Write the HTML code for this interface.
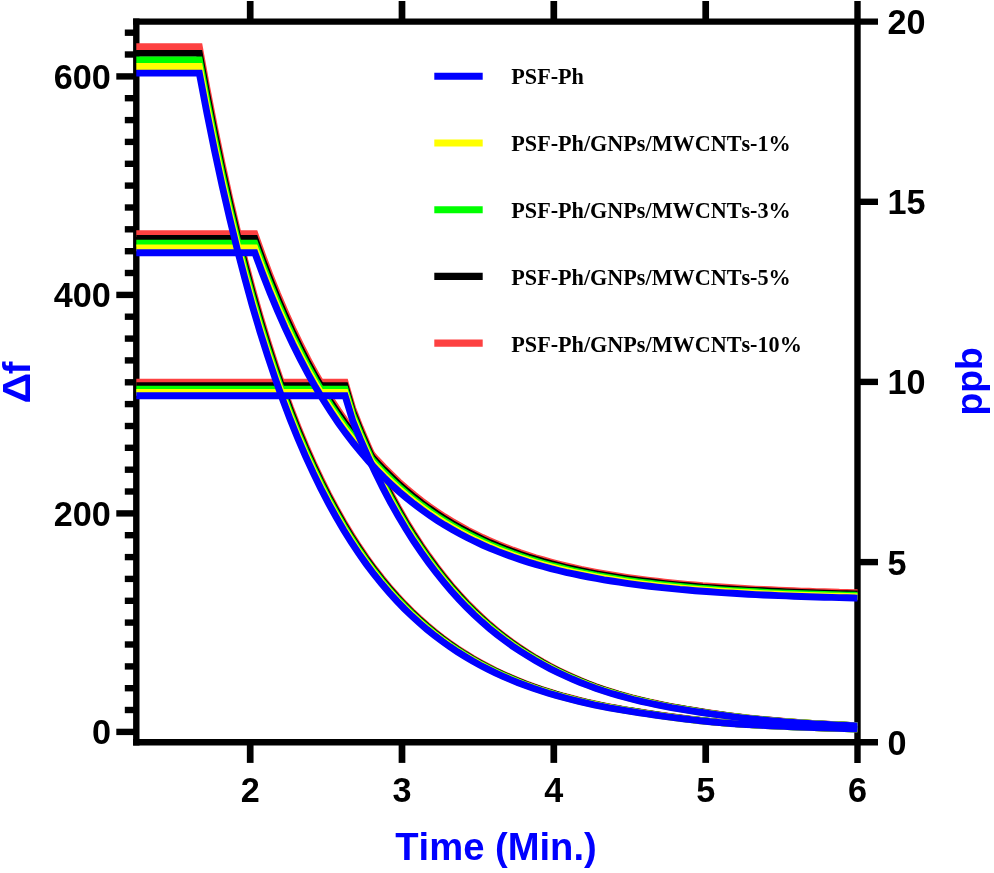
<!DOCTYPE html>
<html lang="en"><head><meta charset="utf-8"><title>Chart</title>
<style>html,body{margin:0;padding:0;background:#fff}svg{display:block}.n{font-family:"Liberation Sans",Arial,sans-serif;font-weight:bold;font-size:34.2px;fill:#000;font-kerning:none}.t{font-family:"Liberation Sans",Arial,sans-serif;font-weight:bold;font-size:38.2px;fill:#0000ff;font-kerning:none}.l{font-family:"Liberation Serif","Times New Roman",serif;font-weight:bold;font-size:22.18px;fill:#000;font-kerning:none}</style></head><body>
<svg width="994" height="873" viewBox="0 0 994 873">
<rect width="994" height="873" fill="#fff"/>
<g stroke="#000" stroke-width="6.4" fill="none" stroke-linecap="butt">
<path d="M136.3 18.400000000000002V745.5"/>
<path d="M133.10000000000002 21.6H878"/>
<path d="M133.10000000000002 742.3H878"/>
<path d="M857.5 1V762.9"/>
<path stroke-width="6.7" d="M250.2 1V21.6"/>
<path stroke-width="6.7" d="M250.2 742.3V762.9"/>
<path stroke-width="6.7" d="M402.0 1V21.6"/>
<path stroke-width="6.7" d="M402.0 742.3V762.9"/>
<path stroke-width="6.7" d="M553.8 1V21.6"/>
<path stroke-width="6.7" d="M553.8 742.3V762.9"/>
<path stroke-width="6.7" d="M705.7 1V21.6"/>
<path stroke-width="6.7" d="M705.7 742.3V762.9"/>
<path d="M116.3 731.9H136.3"/>
<path d="M124.8 710.0H136.3"/>
<path d="M124.8 688.2H136.3"/>
<path d="M124.8 666.4H136.3"/>
<path d="M124.8 644.5H136.3"/>
<path d="M124.8 622.6H136.3"/>
<path d="M124.8 600.8H136.3"/>
<path d="M124.8 578.9H136.3"/>
<path d="M124.8 557.1H136.3"/>
<path d="M124.8 535.2H136.3"/>
<path d="M116.3 513.4H136.3"/>
<path d="M124.8 491.5H136.3"/>
<path d="M124.8 469.7H136.3"/>
<path d="M124.8 447.8H136.3"/>
<path d="M124.8 426.0H136.3"/>
<path d="M124.8 404.1H136.3"/>
<path d="M124.8 382.3H136.3"/>
<path d="M124.8 360.4H136.3"/>
<path d="M124.8 338.6H136.3"/>
<path d="M124.8 316.7H136.3"/>
<path d="M116.3 294.9H136.3"/>
<path d="M124.8 273.0H136.3"/>
<path d="M124.8 251.2H136.3"/>
<path d="M124.8 229.3H136.3"/>
<path d="M124.8 207.5H136.3"/>
<path d="M124.8 185.6H136.3"/>
<path d="M124.8 163.8H136.3"/>
<path d="M124.8 141.9H136.3"/>
<path d="M124.8 120.1H136.3"/>
<path d="M124.8 98.2H136.3"/>
<path d="M116.3 76.4H136.3"/>
<path d="M124.8 54.5H136.3"/>
<path d="M124.8 32.7H136.3"/>
<path d="M857.5 562.1H878"/>
<path d="M857.5 381.9H878"/>
<path d="M857.5 201.8H878"/>
</g>
<g fill="none" stroke-width="6.9" stroke-linejoin="miter" stroke-linecap="butt">
<polyline stroke="#fd4141" points="136.3,46.8 199.3,46.8 206.9,88.2 214.5,127.1 222.1,163.6 229.7,197.9 237.3,230.2 244.9,260.5 252.4,288.9 260.0,315.7 267.6,340.8 275.2,364.4 282.8,386.5 290.4,407.4 298.0,426.9 305.6,445.3 313.2,462.6 320.8,478.8 328.4,494.0 336.0,508.3 343.5,521.8 351.1,534.4 358.7,546.3 366.3,557.4 373.9,567.9 381.5,577.7 389.1,586.9 396.7,595.6 404.3,603.8 411.9,611.4 419.5,618.6 427.1,625.4 434.6,631.7 442.2,637.7 449.8,643.3 457.4,648.6 465.0,653.5 472.6,658.2 480.2,662.5 487.8,666.6 495.4,670.5 503.0,674.1 510.6,677.5 518.2,680.7 525.7,683.7 533.3,686.5 540.9,689.2 548.5,691.6 556.1,694.0 563.7,696.2 571.3,698.2 578.9,700.2 586.5,702.0 594.1,703.7 601.7,705.3 609.3,706.8 616.8,708.2 624.4,709.6 632.0,710.8 639.6,712.0 647.2,713.2 654.8,714.3 662.4,715.5 670.0,716.5 677.6,717.5 685.2,718.5 692.8,719.5 700.3,720.3 707.9,721.1 715.5,721.9 723.1,722.6 730.7,723.2 738.3,723.7 745.9,724.2 753.5,724.7 761.1,725.1 768.7,725.5 776.3,725.9 783.9,726.2 791.4,726.6 799.0,726.9 806.6,727.2 814.2,727.5 821.8,727.7 829.4,728.0 837.0,728.2 844.6,728.4 852.2,728.6 857.5,728.8"/>
<polyline stroke="#fd4141" points="136.3,233.6 254.8,233.6 262.4,255.0 270.0,275.1 277.6,294.1 285.2,311.9 292.8,328.7 300.4,344.5 307.9,359.4 315.5,373.3 323.1,386.5 330.7,398.9 338.3,410.5 345.9,421.5 353.5,431.8 361.1,441.5 368.7,450.6 376.3,459.2 383.9,467.2 391.5,474.8 399.0,482.0 406.6,488.7 414.2,495.0 421.8,501.0 429.4,506.6 437.0,511.8 444.6,516.8 452.2,521.4 459.8,525.8 467.4,530.0 475.0,533.8 482.5,537.5 490.1,540.9 497.7,544.2 505.3,547.2 512.9,550.1 520.5,552.8 528.1,555.3 535.7,557.7 543.3,559.9 550.9,562.0 558.5,564.0 566.1,565.9 573.6,567.6 581.2,569.3 588.8,570.8 596.4,572.3 604.0,573.7 611.6,575.0 619.2,576.2 626.8,577.3 634.4,578.4 642.0,579.4 649.6,580.4 657.2,581.3 664.7,582.1 672.3,582.9 679.9,583.7 687.5,584.4 695.1,585.0 702.7,585.7 710.3,586.2 717.9,586.8 725.5,587.3 733.1,587.8 740.7,588.3 748.3,588.7 755.8,589.1 763.4,589.5 771.0,589.8 778.6,590.2 786.2,590.5 793.8,590.8 801.4,591.1 809.0,591.3 816.6,591.6 824.2,591.8 831.8,592.0 839.3,592.3 846.9,592.4 854.5,592.6 857.5,592.7"/>
<polyline stroke="#fd4141" points="136.3,382.3 345.1,382.3 352.7,408.2 360.2,427.4 367.8,445.4 375.4,462.4 383.0,478.3 390.6,493.3 398.2,507.4 405.8,520.7 413.4,533.1 421.0,544.9 428.6,555.9 436.2,566.3 443.8,576.1 451.3,585.4 458.9,594.1 466.5,602.3 474.1,610.0 481.7,617.3 489.3,624.2 496.9,630.6 504.5,636.6 512.1,642.3 519.7,647.6 527.3,652.7 534.9,657.4 542.4,661.8 550.0,666.0 557.6,670.0 565.2,673.7 572.8,677.2 580.4,680.5 588.0,683.6 595.6,686.5 603.2,689.2 610.8,691.6 618.4,694.0 626.0,696.1 633.5,698.2 641.1,700.1 648.7,701.9 656.3,703.5 663.9,705.1 671.5,706.6 679.1,708.0 686.7,709.3 694.3,710.5 701.9,711.7 709.5,712.9 717.0,714.0 724.6,715.1 732.2,716.1 739.8,717.0 747.4,717.9 755.0,718.8 762.6,719.5 770.2,720.2 777.8,720.8 785.4,721.5 793.0,722.0 800.6,722.6 808.1,723.1 815.7,723.6 823.3,724.0 830.9,724.4 838.5,724.8 846.1,725.2 853.7,725.6 857.5,725.7"/>
<polyline stroke="#000000" points="136.3,53.4 199.3,53.4 206.9,94.4 214.5,132.9 222.1,169.1 229.7,203.1 237.3,235.0 244.9,265.0 252.4,293.2 260.0,319.7 267.6,344.6 275.2,367.9 282.8,389.9 290.4,410.5 298.0,429.9 305.6,448.1 313.2,465.2 320.8,481.2 328.4,496.3 336.0,510.5 343.5,523.8 351.1,536.3 358.7,548.0 366.3,559.1 373.9,569.4 381.5,579.2 389.1,588.3 396.7,596.9 404.3,605.0 411.9,612.6 419.5,619.7 427.1,626.4 434.6,632.7 442.2,638.6 449.8,644.2 457.4,649.4 465.0,654.3 472.6,658.9 480.2,663.2 487.8,667.3 495.4,671.1 503.0,674.7 510.6,678.0 518.2,681.2 525.7,684.2 533.3,686.9 540.9,689.6 548.5,692.0 556.1,694.3 563.7,696.5 571.3,698.6 578.9,700.5 586.5,702.3 594.1,704.0 601.7,705.6 609.3,707.1 616.8,708.5 624.4,709.8 632.0,711.0 639.6,712.2 647.2,713.4 654.8,714.5 662.4,715.6 670.0,716.7 677.6,717.7 685.2,718.7 692.8,719.6 700.3,720.4 707.9,721.2 715.5,722.0 723.1,722.7 730.7,723.3 738.3,723.8 745.9,724.3 753.5,724.7 761.1,725.2 768.7,725.6 776.3,725.9 783.9,726.3 791.4,726.6 799.0,726.9 806.6,727.2 814.2,727.5 821.8,727.8 829.4,728.0 837.0,728.2 844.6,728.5 852.2,728.7 857.5,728.8"/>
<polyline stroke="#000000" points="136.3,238.4 254.8,238.4 262.4,259.6 270.0,279.5 277.6,298.3 285.2,316.0 292.8,332.6 300.4,348.2 307.9,363.0 315.5,376.8 323.1,389.8 330.7,402.1 338.3,413.6 345.9,424.4 353.5,434.6 361.1,444.2 368.7,453.3 376.3,461.8 383.9,469.8 391.5,477.3 399.0,484.4 406.6,491.0 414.2,497.3 421.8,503.2 429.4,508.7 437.0,513.9 444.6,518.8 452.2,523.5 459.8,527.8 467.4,531.9 475.0,535.7 482.5,539.4 490.1,542.8 497.7,546.0 505.3,549.0 512.9,551.8 520.5,554.5 528.1,557.0 535.7,559.3 543.3,561.6 550.9,563.7 558.5,565.6 566.1,567.5 573.6,569.2 581.2,570.8 588.8,572.4 596.4,573.8 604.0,575.2 611.6,576.5 619.2,577.7 626.8,578.8 634.4,579.9 642.0,580.9 649.6,581.8 657.2,582.7 664.7,583.6 672.3,584.4 679.9,585.1 687.5,585.8 695.1,586.4 702.7,587.1 710.3,587.6 717.9,588.2 725.5,588.7 733.1,589.2 740.7,589.6 748.3,590.1 755.8,590.5 763.4,590.8 771.0,591.2 778.6,591.5 786.2,591.9 793.8,592.2 801.4,592.4 809.0,592.7 816.6,592.9 824.2,593.2 831.8,593.4 839.3,593.6 846.9,593.8 854.5,594.0 857.5,594.0"/>
<polyline stroke="#000000" points="136.3,385.7 345.1,385.7 352.7,411.4 360.2,430.3 367.8,448.2 375.4,465.0 383.0,480.8 390.6,495.6 398.2,509.6 405.8,522.7 413.4,535.0 421.0,546.7 428.6,557.6 436.2,567.9 443.8,577.6 451.3,586.8 458.9,595.4 466.5,603.6 474.1,611.2 481.7,618.4 489.3,625.2 496.9,631.6 504.5,637.5 512.1,643.2 519.7,648.5 527.3,653.4 534.9,658.1 542.4,662.5 550.0,666.7 557.6,670.6 565.2,674.3 572.8,677.7 580.4,681.0 588.0,684.0 595.6,686.9 603.2,689.6 610.8,692.0 618.4,694.3 626.0,696.5 633.5,698.5 641.1,700.4 648.7,702.1 656.3,703.8 663.9,705.4 671.5,706.8 679.1,708.2 686.7,709.5 694.3,710.7 701.9,711.9 709.5,713.1 717.0,714.2 724.6,715.2 732.2,716.2 739.8,717.2 747.4,718.1 755.0,718.9 762.6,719.6 770.2,720.3 777.8,720.9 785.4,721.6 793.0,722.1 800.6,722.7 808.1,723.2 815.7,723.6 823.3,724.1 830.9,724.5 838.5,724.9 846.1,725.3 853.7,725.6 857.5,725.8"/>
<polyline stroke="#00ff00" points="136.3,59.9 199.3,59.9 206.9,100.6 214.5,138.7 222.1,174.5 229.7,208.2 237.3,239.8 244.9,269.6 252.4,297.5 260.0,323.7 267.6,348.3 275.2,371.5 282.8,393.2 290.4,413.6 298.0,432.8 305.6,450.8 313.2,467.7 320.8,483.6 328.4,498.6 336.0,512.6 343.5,525.8 351.1,538.2 358.7,549.8 366.3,560.8 373.9,571.0 381.5,580.7 389.1,589.7 396.7,598.2 404.3,606.2 411.9,613.8 419.5,620.8 427.1,627.4 434.6,633.7 442.2,639.5 449.8,645.0 457.4,650.2 465.0,655.0 472.6,659.6 480.2,663.9 487.8,667.9 495.4,671.7 503.0,675.2 510.6,678.5 518.2,681.7 525.7,684.6 533.3,687.4 540.9,690.0 548.5,692.4 556.1,694.7 563.7,696.9 571.3,698.9 578.9,700.8 586.5,702.6 594.1,704.2 601.7,705.8 609.3,707.3 616.8,708.7 624.4,710.0 632.0,711.2 639.6,712.4 647.2,713.6 654.8,714.7 662.4,715.8 670.0,716.8 677.6,717.8 685.2,718.8 692.8,719.7 700.3,720.5 707.9,721.3 715.5,722.1 723.1,722.7 730.7,723.3 738.3,723.9 745.9,724.3 753.5,724.8 761.1,725.2 768.7,725.6 776.3,726.0 783.9,726.3 791.4,726.7 799.0,727.0 806.6,727.3 814.2,727.5 821.8,727.8 829.4,728.0 837.0,728.3 844.6,728.5 852.2,728.7 857.5,728.8"/>
<polyline stroke="#00ff00" points="136.3,243.1 254.8,243.1 262.4,264.2 270.0,283.9 277.6,302.5 285.2,320.0 292.8,336.5 300.4,352.0 307.9,366.5 315.5,380.2 323.1,393.1 330.7,405.3 338.3,416.7 345.9,427.4 353.5,437.5 361.1,447.0 368.7,456.0 376.3,464.4 383.9,472.3 391.5,479.8 399.0,486.8 406.6,493.4 414.2,499.6 421.8,505.4 429.4,510.9 437.0,516.1 444.6,520.9 452.2,525.5 459.8,529.8 467.4,533.8 475.0,537.6 482.5,541.2 490.1,544.6 497.7,547.8 505.3,550.8 512.9,553.6 520.5,556.2 528.1,558.7 535.7,561.0 543.3,563.2 550.9,565.3 558.5,567.2 566.1,569.1 573.6,570.8 581.2,572.4 588.8,573.9 596.4,575.4 604.0,576.7 611.6,578.0 619.2,579.2 626.8,580.3 634.4,581.4 642.0,582.4 649.6,583.3 657.2,584.2 664.7,585.0 672.3,585.8 679.9,586.5 687.5,587.2 695.1,587.9 702.7,588.5 710.3,589.0 717.9,589.6 725.5,590.1 733.1,590.6 740.7,591.0 748.3,591.4 755.8,591.8 763.4,592.2 771.0,592.6 778.6,592.9 786.2,593.2 793.8,593.5 801.4,593.8 809.0,594.0 816.6,594.3 824.2,594.5 831.8,594.7 839.3,594.9 846.9,595.1 854.5,595.3 857.5,595.4"/>
<polyline stroke="#00ff00" points="136.3,389.1 345.1,389.1 352.7,414.5 360.2,433.3 367.8,450.9 375.4,467.6 383.0,483.2 390.6,497.9 398.2,511.7 405.8,524.7 413.4,537.0 421.0,548.4 428.6,559.3 436.2,569.5 443.8,579.1 451.3,588.2 458.9,596.8 466.5,604.8 474.1,612.4 481.7,619.5 489.3,626.2 496.9,632.5 504.5,638.5 512.1,644.0 519.7,649.3 527.3,654.2 534.9,658.8 542.4,663.2 550.0,667.3 557.6,671.2 565.2,674.8 572.8,678.2 580.4,681.5 588.0,684.5 595.6,687.4 603.2,690.0 610.8,692.4 618.4,694.7 626.0,696.8 633.5,698.8 641.1,700.7 648.7,702.4 656.3,704.1 663.9,705.6 671.5,707.1 679.1,708.4 686.7,709.7 694.3,710.9 701.9,712.1 709.5,713.3 717.0,714.4 724.6,715.4 732.2,716.4 739.8,717.3 747.4,718.2 755.0,719.0 762.6,719.7 770.2,720.4 777.8,721.1 785.4,721.7 793.0,722.2 800.6,722.7 808.1,723.2 815.7,723.7 823.3,724.2 830.9,724.6 838.5,725.0 846.1,725.3 853.7,725.7 857.5,725.8"/>
<polyline stroke="#ffff00" points="136.3,66.5 199.3,66.5 206.9,106.7 214.5,144.5 222.1,180.0 229.7,213.3 237.3,244.7 244.9,274.1 252.4,301.7 260.0,327.7 267.6,352.1 275.2,375.0 282.8,396.5 290.4,416.7 298.0,435.7 305.6,453.6 313.2,470.3 320.8,486.1 328.4,500.9 336.0,514.8 343.5,527.8 351.1,540.1 358.7,551.6 366.3,562.4 373.9,572.6 381.5,582.2 389.1,591.1 396.7,599.6 404.3,607.5 411.9,614.9 419.5,621.9 427.1,628.5 434.6,634.6 442.2,640.4 449.8,645.9 457.4,651.0 465.0,655.8 472.6,660.3 480.2,664.5 487.8,668.5 495.4,672.3 503.0,675.8 510.6,679.1 518.2,682.2 525.7,685.1 533.3,687.8 540.9,690.4 548.5,692.8 556.1,695.1 563.7,697.2 571.3,699.2 578.9,701.1 586.5,702.9 594.1,704.5 601.7,706.1 609.3,707.5 616.8,708.9 624.4,710.2 632.0,711.4 639.6,712.6 647.2,713.7 654.8,714.9 662.4,715.9 670.0,717.0 677.6,718.0 685.2,718.9 692.8,719.8 700.3,720.7 707.9,721.4 715.5,722.2 723.1,722.8 730.7,723.4 738.3,723.9 745.9,724.4 753.5,724.9 761.1,725.3 768.7,725.7 776.3,726.0 783.9,726.4 791.4,726.7 799.0,727.0 806.6,727.3 814.2,727.6 821.8,727.8 829.4,728.1 837.0,728.3 844.6,728.5 852.2,728.7 857.5,728.8"/>
<polyline stroke="#ffff00" points="136.3,247.9 254.8,247.9 262.4,268.7 270.0,288.3 277.6,306.7 285.2,324.1 292.8,340.4 300.4,355.7 307.9,370.1 315.5,383.7 323.1,396.5 330.7,408.5 338.3,419.8 345.9,430.4 353.5,440.4 361.1,449.8 368.7,458.7 376.3,467.0 383.9,474.9 391.5,482.2 399.0,489.2 406.6,495.7 414.2,501.8 421.8,507.6 429.4,513.1 437.0,518.2 444.6,523.0 452.2,527.5 459.8,531.8 467.4,535.8 475.0,539.5 482.5,543.1 490.1,546.4 497.7,549.6 505.3,552.5 512.9,555.3 520.5,557.9 528.1,560.4 535.7,562.7 543.3,564.9 550.9,566.9 558.5,568.8 566.1,570.7 573.6,572.4 581.2,574.0 588.8,575.5 596.4,576.9 604.0,578.2 611.6,579.5 619.2,580.7 626.8,581.8 634.4,582.8 642.0,583.8 649.6,584.8 657.2,585.6 664.7,586.4 672.3,587.2 679.9,587.9 687.5,588.6 695.1,589.3 702.7,589.9 710.3,590.4 717.9,591.0 725.5,591.5 733.1,592.0 740.7,592.4 748.3,592.8 755.8,593.2 763.4,593.6 771.0,593.9 778.6,594.3 786.2,594.6 793.8,594.9 801.4,595.1 809.0,595.4 816.6,595.6 824.2,595.9 831.8,596.1 839.3,596.3 846.9,596.5 854.5,596.7 857.5,596.7"/>
<polyline stroke="#ffff00" points="136.3,392.4 345.1,392.4 352.7,417.6 360.2,436.2 367.8,453.7 375.4,470.2 383.0,485.6 390.6,500.2 398.2,513.9 405.8,526.8 413.4,538.9 421.0,550.2 428.6,561.0 436.2,571.1 443.8,580.6 451.3,589.6 458.9,598.1 466.5,606.1 474.1,613.6 481.7,620.6 489.3,627.3 496.9,633.5 504.5,639.4 512.1,644.9 519.7,650.1 527.3,655.0 534.9,659.5 542.4,663.9 550.0,667.9 557.6,671.8 565.2,675.4 572.8,678.8 580.4,682.0 588.0,685.0 595.6,687.8 603.2,690.4 610.8,692.8 618.4,695.0 626.0,697.2 633.5,699.1 641.1,701.0 648.7,702.7 656.3,704.4 663.9,705.9 671.5,707.3 679.1,708.7 686.7,709.9 694.3,711.1 701.9,712.3 709.5,713.4 717.0,714.5 724.6,715.6 732.2,716.5 739.8,717.5 747.4,718.3 755.0,719.1 762.6,719.9 770.2,720.5 777.8,721.2 785.4,721.8 793.0,722.3 800.6,722.8 808.1,723.3 815.7,723.8 823.3,724.2 830.9,724.6 838.5,725.0 846.1,725.4 853.7,725.7 857.5,725.9"/>
<polyline stroke="#0000ff" points="136.3,73.1 199.3,73.1 206.9,112.9 214.5,150.3 222.1,185.5 229.7,218.5 237.3,249.5 244.9,278.6 252.4,306.0 260.0,331.7 267.6,355.8 275.2,378.5 282.8,399.8 290.4,419.9 298.0,438.7 305.6,456.3 313.2,472.9 320.8,488.5 328.4,503.2 336.0,516.9 343.5,529.8 351.1,542.0 358.7,553.4 366.3,564.1 373.9,574.2 381.5,583.6 389.1,592.5 396.7,600.9 404.3,608.7 411.9,616.1 419.5,623.0 427.1,629.5 434.6,635.6 442.2,641.3 449.8,646.7 457.4,651.8 465.0,656.5 472.6,661.0 480.2,665.2 487.8,669.1 495.4,672.8 503.0,676.3 510.6,679.6 518.2,682.7 525.7,685.5 533.3,688.3 540.9,690.8 548.5,693.2 556.1,695.4 563.7,697.5 571.3,699.5 578.9,701.4 586.5,703.1 594.1,704.8 601.7,706.3 609.3,707.8 616.8,709.1 624.4,710.4 632.0,711.6 639.6,712.8 647.2,713.9 654.8,715.0 662.4,716.1 670.0,717.1 677.6,718.1 685.2,719.0 692.8,719.9 700.3,720.8 707.9,721.5 715.5,722.3 723.1,722.9 730.7,723.5 738.3,724.0 745.9,724.5 753.5,724.9 761.1,725.3 768.7,725.7 776.3,726.1 783.9,726.4 791.4,726.8 799.0,727.1 806.6,727.4 814.2,727.6 821.8,727.9 829.4,728.1 837.0,728.3 844.6,728.6 852.2,728.7 857.5,728.9"/>
<polyline stroke="#0000ff" points="136.3,252.7 254.8,252.7 262.4,273.3 270.0,292.7 277.6,310.9 285.2,328.1 292.8,344.2 300.4,359.4 307.9,373.7 315.5,387.1 323.1,399.8 330.7,411.7 338.3,422.9 345.9,433.4 353.5,443.3 361.1,452.6 368.7,461.4 376.3,469.6 383.9,477.4 391.5,484.7 399.0,491.6 406.6,498.0 414.2,504.1 421.8,509.8 429.4,515.2 437.0,520.3 444.6,525.1 452.2,529.5 459.8,533.8 467.4,537.7 475.0,541.5 482.5,545.0 490.1,548.3 497.7,551.4 505.3,554.3 512.9,557.1 520.5,559.6 528.1,562.1 535.7,564.4 543.3,566.5 550.9,568.6 558.5,570.5 566.1,572.3 573.6,573.9 581.2,575.5 588.8,577.0 596.4,578.4 604.0,579.8 611.6,581.0 619.2,582.2 626.8,583.3 634.4,584.3 642.0,585.3 649.6,586.2 657.2,587.1 664.7,587.9 672.3,588.6 679.9,589.4 687.5,590.0 695.1,590.7 702.7,591.3 710.3,591.8 717.9,592.4 725.5,592.9 733.1,593.3 740.7,593.8 748.3,594.2 755.8,594.6 763.4,595.0 771.0,595.3 778.6,595.6 786.2,595.9 793.8,596.2 801.4,596.5 809.0,596.7 816.6,597.0 824.2,597.2 831.8,597.4 839.3,597.6 846.9,597.8 854.5,598.0 857.5,598.1"/>
<polyline stroke="#0000ff" points="136.3,395.8 345.1,395.8 352.7,420.7 360.2,439.1 367.8,456.5 375.4,472.8 383.0,488.1 390.6,502.5 398.2,516.0 405.8,528.8 413.4,540.8 421.0,552.0 428.6,562.6 436.2,572.7 443.8,582.1 451.3,591.0 458.9,599.4 466.5,607.3 474.1,614.7 481.7,621.7 489.3,628.3 496.9,634.5 504.5,640.3 512.1,645.8 519.7,650.9 527.3,655.7 534.9,660.3 542.4,664.5 550.0,668.6 557.6,672.4 565.2,675.9 572.8,679.3 580.4,682.5 588.0,685.4 595.6,688.2 603.2,690.8 610.8,693.2 618.4,695.4 626.0,697.5 633.5,699.5 641.1,701.3 648.7,703.0 656.3,704.6 663.9,706.1 671.5,707.6 679.1,708.9 686.7,710.2 694.3,711.3 701.9,712.5 709.5,713.6 717.0,714.7 724.6,715.7 732.2,716.7 739.8,717.6 747.4,718.5 755.0,719.3 762.6,720.0 770.2,720.6 777.8,721.3 785.4,721.9 793.0,722.4 800.6,722.9 808.1,723.4 815.7,723.9 823.3,724.3 830.9,724.7 838.5,725.1 846.1,725.5 853.7,725.8 857.5,726.0"/>
</g>
<text class="n" transform="translate(110.9 744.3) scale(1 1.045)" text-anchor="end">0</text>
<text class="n" transform="translate(110.9 525.8) scale(1 1.045)" text-anchor="end">200</text>
<text class="n" transform="translate(110.9 307.3) scale(1 1.045)" text-anchor="end">400</text>
<text class="n" transform="translate(110.9 88.8) scale(1 1.045)" text-anchor="end">600</text>
<text class="n" transform="translate(887.5 754.7) scale(1 1.045)">0</text>
<text class="n" transform="translate(887.5 574.5) scale(1 1.045)">5</text>
<text class="n" transform="translate(887.5 394.3) scale(1 1.045)">10</text>
<text class="n" transform="translate(887.5 214.2) scale(1 1.045)">15</text>
<text class="n" transform="translate(887.5 34.0) scale(1 1.045)">20</text>
<text class="n" transform="translate(250.2 801.8) scale(1 1.045)" text-anchor="middle">2</text>
<text class="n" transform="translate(402.0 801.8) scale(1 1.045)" text-anchor="middle">3</text>
<text class="n" transform="translate(553.8 801.8) scale(1 1.045)" text-anchor="middle">4</text>
<text class="n" transform="translate(705.7 801.8) scale(1 1.045)" text-anchor="middle">5</text>
<text class="n" transform="translate(857.5 801.8) scale(1 1.045)" text-anchor="middle">6</text>
<text class="t" x="496" y="859.9" text-anchor="middle">Time (Min.)</text>
<text class="t" transform="translate(30.2 403.5) rotate(-90) scale(1.12 1.015)">Δ</text>
<text class="t" transform="translate(30.2 374.3) rotate(-90)">f</text>
<text class="t" style="font-size:37.4px" transform="translate(982.3 381.3) rotate(-90)" text-anchor="middle">ppb</text>
<path d="M434.3 76.3H482.7" stroke="#0000ff" stroke-width="7.1" fill="none"/>
<text class="l" transform="translate(511.3 84.2) scale(1 1.032)">PSF-Ph</text>
<path d="M434.3 143.0H482.7" stroke="#ffff00" stroke-width="7.1" fill="none"/>
<text class="l" transform="translate(511.3 151.1) scale(1 1.032)">PSF-Ph/GNPs/MWCNTs-1%</text>
<path d="M434.3 209.7H482.7" stroke="#00ff00" stroke-width="7.1" fill="none"/>
<text class="l" transform="translate(511.3 218.0) scale(1 1.032)">PSF-Ph/GNPs/MWCNTs-3%</text>
<path d="M434.3 276.4H482.7" stroke="#000000" stroke-width="7.1" fill="none"/>
<text class="l" transform="translate(511.3 284.9) scale(1 1.032)">PSF-Ph/GNPs/MWCNTs-5%</text>
<path d="M434.3 343.1H482.7" stroke="#fd4141" stroke-width="7.1" fill="none"/>
<text class="l" transform="translate(511.3 351.8) scale(1 1.032)">PSF-Ph/GNPs/MWCNTs-10%</text>
</svg></body></html>
